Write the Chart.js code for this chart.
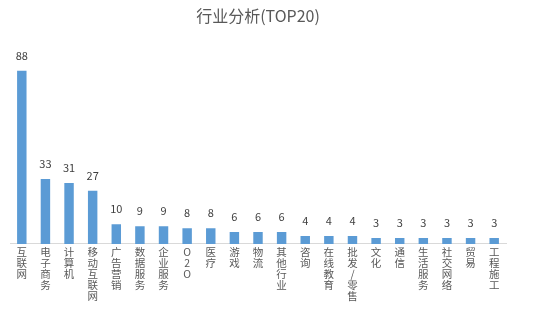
<!DOCTYPE html>
<html>
<head>
<meta charset="utf-8">
<script src="https://cdn.jsdelivr.net/npm/chart.js@4"></script>
<style>
  body { margin: 0; background: #fff; }
  #wrap { width: 545px; height: 317px; }
</style>
</head>
<body>
<div id="wrap"><canvas id="hyChart"></canvas></div>
<script>
// 행업 분석 TOP20
const industries = ['互联网', '电子商务', '计算机', '移动互联网', '广告营销', '数据服务', '企业服务', 'O2O', '医疗', '游戏', '物流',
  '其他行业', '咨询', '在线教育', '批发/零售', '文化', '通信', '生活服务', '社交网络', '贸易', '工程施工'];
const counts = [88, 33, 31, 27, 10, 9, 9, 8, 8, 6, 6, 6, 4, 4, 4, 3, 3, 3, 3, 3, 3];
const yMax = 100;

// 세로 라벨: 글자를 한 줄씩 쌓기
const stackedLabels = industries.map(s => s.split(''));

// 막대 위 값 표시
const valueLabels = {
  id: 'valueLabels',
  afterDatasetsDraw(chart) {
    const ctx = chart.ctx;
    const meta = chart.getDatasetMeta(0);
    ctx.save();
    ctx.fillStyle = '#404040';
    ctx.font = '11px "Noto Sans CJK SC", "Noto Sans", sans-serif';
    ctx.textAlign = 'center';
    ctx.textBaseline = 'middle';
    meta.data.forEach((bar, i) => {
      ctx.fillText(String(counts[i]), bar.x, bar.y - 15);
    });
    ctx.restore();
  }
};

const ctxEl = document.getElementById('hyChart');
const hyChart = new Chart(ctxEl, {
  type: 'bar',
  data: {
    labels: stackedLabels,
    datasets: [{
      label: '行业',
      data: counts,
      backgroundColor: '#5B9BD5',
      barPercentage: 0.4,
      categoryPercentage: 1
    }]
  },
  options: {
    responsive: true,
    maintainAspectRatio: false,
    animation: false,
    layout: { padding: { left: 10, right: 39, bottom: 12 } },
    scales: {
      x: {
        grid: { display: false, drawTicks: false },
        border: { display: true, color: '#d9d9d9' },
        ticks: {
          autoSkip: false,
          maxRotation: 0,
          minRotation: 0,
          padding: 3,
          color: '#595959',
          font: { size: 10.5, family: '"Noto Sans CJK SC", sans-serif', lineHeight: 1.05 }
        }
      },
      y: {
        display: false,
        min: 0,
        max: yMax
      }
    },
    plugins: {
      legend: { display: false },
      tooltip: { enabled: false },
      title: {
        display: true,
        text: '行业分析(TOP20)',
        color: '#595959',
        padding: { top: 6, bottom: 22 },
        font: { size: 16, weight: 'normal', family: '"Noto Sans CJK SC", sans-serif' }
      }
    }
  },
  plugins: [valueLabels]
});
</script>
</body>
</html>
